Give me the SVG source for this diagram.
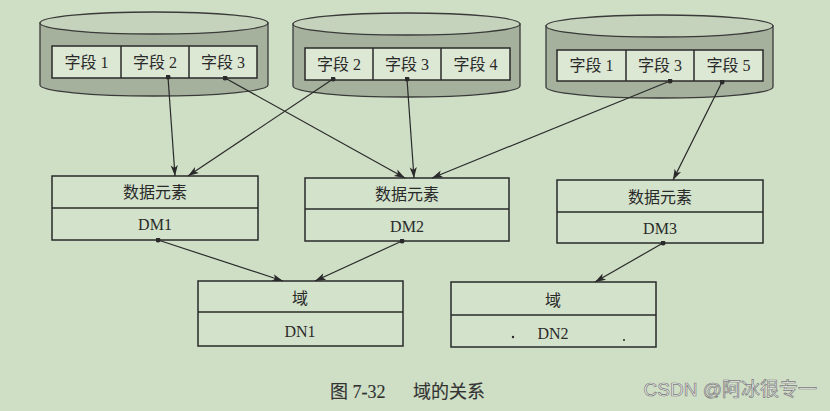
<svg xmlns="http://www.w3.org/2000/svg" width="830" height="411" viewBox="0 0 830 411">
<defs>
<marker id="ah" viewBox="0 0 12 10" refX="12" refY="5" markerWidth="11" markerHeight="9" markerUnits="userSpaceOnUse" orient="auto">
<path d="M0,1 L12,5 L0,9 L3,5 Z" fill="#2a2a2a"/>
</marker>
<marker id="dot" viewBox="0 0 6 6" refX="3" refY="3" markerWidth="5" markerHeight="5" markerUnits="userSpaceOnUse">
<circle cx="3" cy="3" r="3" fill="#2a2a2a"/>
</marker>
</defs>
<style>
.body{fill:#a5b19c;stroke:#3a3a3a;stroke-width:1.3}
.top{fill:#c5d3bc;stroke:#3a3a3a;stroke-width:1.3}
.cell{fill:#dce7d4;stroke:#2a2a2a;stroke-width:1.5}
.box{fill:#d3e2ca;stroke:#2a2a2a;stroke-width:1.5}
.div{stroke:#2a2a2a;stroke-width:1.5}
.t{font-family:"Liberation Serif","Noto Sans CJK SC",serif;font-size:16px;fill:#2a2a2a;text-anchor:middle;dominant-baseline:central}
.cap{font-family:"Liberation Serif","Noto Sans CJK SC",serif;font-size:18px;fill:#333333;stroke:#333333;stroke-width:0.15;dominant-baseline:central}
.c{stroke:#2a2a2a;stroke-width:1.2;fill:none;marker-start:url(#dot);marker-end:url(#ah)}
</style>
<rect width="830" height="411" fill="#cfdfc5"/>

<g id="db1">
<path class="body" d="M40,23 L40,85 A114,11 0 0 0 268,85 L268,23 Z"/>
<ellipse class="top" cx="154" cy="23" rx="114" ry="11"/>
<rect class="cell" x="52" y="46" width="205" height="32"/>
<line class="div" x1="121" y1="46" x2="121" y2="78"/>
<line class="div" x1="189" y1="46" x2="189" y2="78"/>
<text class="t" x="86.5" y="62">字段 1</text>
<text class="t" x="155" y="62">字段 2</text>
<text class="t" x="223" y="62">字段 3</text>
</g>

<g id="db2">
<path class="body" d="M293,24 L293,86 A113.5,11 0 0 0 520,86 L520,24 Z"/>
<ellipse class="top" cx="406.5" cy="24" rx="113.5" ry="11"/>
<rect class="cell" x="305" y="48" width="205" height="32"/>
<line class="div" x1="373" y1="48" x2="373" y2="80"/>
<line class="div" x1="441" y1="48" x2="441" y2="80"/>
<text class="t" x="339" y="64">字段 2</text>
<text class="t" x="407" y="64">字段 3</text>
<text class="t" x="475.5" y="64">字段 4</text>
</g>

<g id="db3">
<path class="body" d="M546,26 L546,87 A113.5,11 0 0 0 773,87 L773,26 Z"/>
<ellipse class="top" cx="659.5" cy="26" rx="113.5" ry="11"/>
<rect class="cell" x="557" y="50" width="206" height="31"/>
<line class="div" x1="626" y1="50" x2="626" y2="81"/>
<line class="div" x1="694" y1="50" x2="694" y2="81"/>
<text class="t" x="591.5" y="65.5">字段 1</text>
<text class="t" x="660" y="65.5">字段 3</text>
<text class="t" x="728.5" y="65.5">字段 5</text>
</g>

<g id="dm1">
<rect class="box" x="52" y="176" width="206" height="64"/>
<line class="div" x1="52" y1="208" x2="258" y2="208"/>
<text class="t" x="155" y="192">数据元素</text>
<text class="t" x="155" y="224">DM1</text>
</g>

<g id="dm2">
<rect class="box" x="305" y="178" width="204" height="63"/>
<line class="div" x1="305" y1="209" x2="509" y2="209"/>
<text class="t" x="407" y="194">数据元素</text>
<text class="t" x="407" y="226">DM2</text>
</g>

<g id="dm3">
<rect class="box" x="557" y="180" width="206" height="63"/>
<line class="div" x1="557" y1="212" x2="763" y2="212"/>
<text class="t" x="660" y="197">数据元素</text>
<text class="t" x="660" y="228">DM3</text>
</g>

<g id="dn1">
<rect class="box" x="198" y="281" width="205" height="65"/>
<line class="div" x1="198" y1="312" x2="403" y2="312"/>
<text class="t" x="300" y="298">域</text>
<text class="t" x="300" y="331">DN1</text>
</g>

<g id="dn2">
<rect class="box" x="451" y="282" width="205" height="65"/>
<line class="div" x1="451" y1="315" x2="656" y2="315"/>
<text class="t" x="553" y="300">域</text>
<text class="t" x="553" y="333">DN2</text>
<circle cx="513" cy="337" r="1.2" fill="#2a2a2a"/>
<circle cx="624" cy="340" r="1" fill="#2a2a2a"/>
</g>

<g id="connectors">
<line class="c" x1="168" y1="77" x2="175" y2="176"/>
<line class="c" x1="333" y1="79" x2="188" y2="176"/>
<line class="c" x1="225" y1="78" x2="405" y2="178"/>
<line class="c" x1="407" y1="79" x2="414" y2="178"/>
<line class="c" x1="670" y1="81" x2="432" y2="178"/>
<line class="c" x1="722" y1="82" x2="673" y2="180"/>
<line class="c" x1="158" y1="240" x2="283" y2="281"/>
<line class="c" x1="402" y1="241" x2="315" y2="281"/>
<line class="c" x1="663" y1="243" x2="595" y2="282"/>
</g>

<g id="caption">
<text class="cap" x="330" y="392">图 7-32</text>
<text class="cap" x="413" y="392">域的关系</text>
<text x="817" y="389" style="font-family:'Liberation Sans','Noto Sans CJK SC',sans-serif;font-size:19px;fill:#f4f4f4;stroke:#7a7a7a;stroke-width:0.7;dominant-baseline:central;text-anchor:end">CSDN @阿冰很专一</text>
</g>
</svg>
